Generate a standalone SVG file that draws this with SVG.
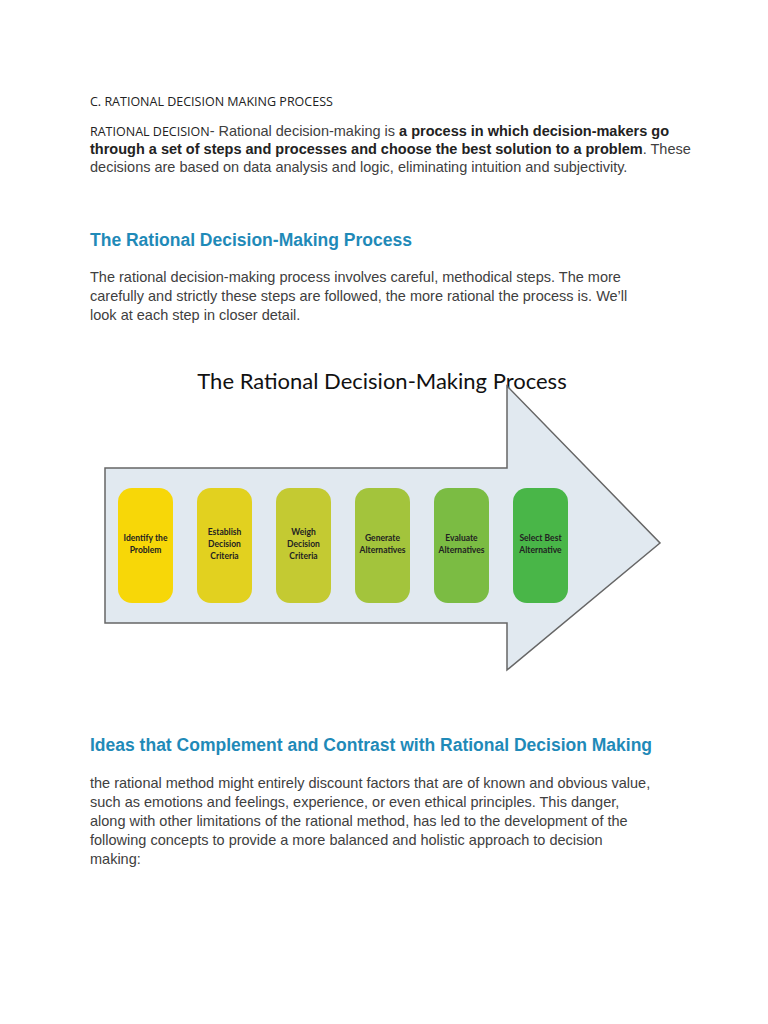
<svg xmlns="http://www.w3.org/2000/svg" width="768" height="1024" viewBox="0 0 768 1024">
<style>
.t{font-family:"Liberation Sans",Arial,sans-serif;font-size:14.5px;fill:#404040}
.c{font-family:"Open Sans","Liberation Sans",sans-serif;font-size:12.5px;fill:#222}
.b{font-weight:bold;fill:#222}
.h{font-family:"Liberation Sans",Arial,sans-serif;font-size:17.5px;font-weight:bold;fill:#1F8AB8}
.n{font-family:"Lato","Liberation Sans",sans-serif;font-size:8.5px;font-weight:bold;fill:#222;text-anchor:middle}
.box{stroke:none}
</style>
<rect width="768" height="1024" fill="#fff"/>
<text class="c" x="90" y="106">C. RATIONAL DECISION MAKING PROCESS</text>
<text class="t" x="90" y="136"><tspan class="c">RATIONAL DECISION</tspan>- Rational decision-making is <tspan class="b">a process in which decision-makers go</tspan></text>
<text class="t" x="90" y="154"><tspan class="b">through a set of steps and processes and choose the best solution to a problem</tspan>. These</text>
<text class="t" x="90" y="172">decisions are based on data analysis and logic, eliminating intuition and subjectivity.</text>
<text class="h" x="90" y="246">The Rational Decision-Making Process</text>
<text class="t" x="90" y="282">The rational decision-making process involves careful, methodical steps. The more</text>
<text class="t" x="90" y="301">carefully and strictly these steps are followed, the more rational the process is. We’ll</text>
<text class="t" x="90" y="320">look at each step in closer detail.</text>
<text x="382" y="389" text-anchor="middle" font-family="Lato,'Open Sans',sans-serif" font-size="22" fill="#111">The Rational Decision-Making Process</text>
<g id="arrow"><polygon points="105,468 507,468 507,386 660,543 507,670 507,623 105,623" fill="#E1E9F0" stroke="#666" stroke-width="1.5"/></g>
<g id="n1"><rect class="box" x="118" y="488" width="55" height="115" rx="14" fill="#F7D708"/><text class="n" x="145.5" y="541">Identify the</text><text class="n" x="145.5" y="553">Problem</text></g>
<g id="n2"><rect class="box" x="197" y="488" width="55" height="115" rx="14" fill="#E2D11F"/><text class="n" x="224.5" y="535">Establish</text><text class="n" x="224.5" y="547">Decision</text><text class="n" x="224.5" y="559">Criteria</text></g>
<g id="n3"><rect class="box" x="276" y="488" width="55" height="115" rx="14" fill="#C4CA32"/><text class="n" x="303.5" y="535">Weigh</text><text class="n" x="303.5" y="547">Decision</text><text class="n" x="303.5" y="559">Criteria</text></g>
<g id="n4"><rect class="box" x="355" y="488" width="55" height="115" rx="14" fill="#A3C43C"/><text class="n" x="382.5" y="541">Generate</text><text class="n" x="382.5" y="553">Alternatives</text></g>
<g id="n5"><rect class="box" x="434" y="488" width="55" height="115" rx="14" fill="#7BBC43"/><text class="n" x="461.5" y="541">Evaluate</text><text class="n" x="461.5" y="553">Alternatives</text></g>
<g id="n6"><rect class="box" x="513" y="488" width="55" height="115" rx="14" fill="#49B648"/><text class="n" x="540.5" y="541">Select Best</text><text class="n" x="540.5" y="553">Alternative</text></g>
<g id="connectors"></g>
<text class="h" x="90" y="751">Ideas that Complement and Contrast with Rational Decision Making</text>
<text class="t" x="90" y="788"> the rational method might entirely discount factors that are of known and obvious value,</text>
<text class="t" x="90" y="807">such as emotions and feelings, experience, or even ethical principles. This danger,</text>
<text class="t" x="90" y="826">along with other limitations of the rational method, has led to the development of the</text>
<text class="t" x="90" y="845">following concepts to provide a more balanced and holistic approach to decision</text>
<text class="t" x="90" y="864">making:</text>
</svg>
